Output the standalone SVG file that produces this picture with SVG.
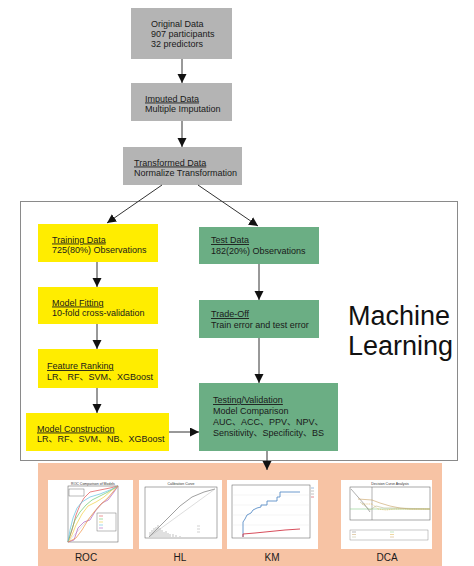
<svg xmlns="http://www.w3.org/2000/svg" width="474" height="566" viewBox="0 0 474 566">
<defs>
<marker id="ah" markerUnits="userSpaceOnUse" markerWidth="10" markerHeight="10" refX="9" refY="4.5" orient="auto">
<path d="M0,0 L9,4.5 L0,9 z" fill="#111"/>
</marker>
</defs>
<style>
text{font-family:"Liberation Sans","Noto Sans CJK SC",sans-serif;fill:#1a1a1a}
.t{font-size:9px}
.u{text-decoration:underline}
.gray{fill:#b4b4b4}
.yel{fill:#ffed00}
.grn{fill:#6bae84}
.con line{stroke:#333;stroke-width:1;marker-end:url(#ah)}
.ax{fill:none;stroke:#555;stroke-width:0.5}
.pt{font-size:3.5px;fill:#333}
.lbl{font-size:10px}
</style>
<rect width="474" height="566" fill="#fff"/>
<rect x="20.5" y="201.5" width="437" height="259" fill="none" stroke="#8a8a8a" stroke-width="1"/>

<g id="original">
<rect class="gray" x="131" y="8" width="101" height="51"/>
<text class="t" x="151" y="27">Original Data</text>
<text class="t" x="151" y="37">907 participants</text>
<text class="t" x="151" y="47">32 predictors</text>
</g>
<g id="imputed">
<rect class="gray" x="131" y="83" width="101" height="38"/>
<text class="t u" x="145" y="101.5">Imputed Data</text>
<text class="t" x="145" y="111.5">Multiple Imputation</text>
</g>
<g id="transformed">
<rect class="gray" x="123" y="147" width="119" height="38"/>
<text class="t u" x="134" y="165.5">Transformed Data</text>
<text class="t" x="134" y="175.5">Normalize Transformation</text>
</g>

<g id="training">
<rect class="yel" x="38" y="224" width="120" height="38"/>
<text class="t u" x="52" y="242.5">Training Data</text>
<text class="t" x="52" y="253">725(80%) Observations</text>
</g>
<g id="fitting">
<rect class="yel" x="38" y="287" width="120" height="37"/>
<text class="t u" x="52" y="305.5">Model Fitting</text>
<text class="t" x="52" y="316">10-fold cross-validation</text>
</g>
<g id="ranking">
<rect class="yel" x="38" y="349" width="120" height="39"/>
<text class="t u" x="47" y="369">Feature Ranking</text>
<text class="t" x="47" y="379.5">LR、RF、SVM、XGBoost</text>
</g>
<g id="construction">
<rect class="yel" x="26" y="413" width="143" height="38"/>
<text class="t u" x="37" y="431.5">Model Construction</text>
<text class="t" x="37" y="442">LR、RF、SVM、NB、XGBoost</text>
</g>

<g id="test">
<rect class="grn" x="199" y="227" width="120" height="37"/>
<text class="t u" x="211" y="243">Test Data</text>
<text class="t" x="211" y="253.5">182(20%) Observations</text>
</g>
<g id="tradeoff">
<rect class="grn" x="199" y="300" width="120" height="38"/>
<text class="t u" x="211" y="317">Trade-Off</text>
<text class="t" x="211" y="327.5">Train error and test error</text>
</g>
<g id="testing">
<rect class="grn" x="199" y="383" width="139" height="68"/>
<text class="t u" x="213" y="403">Testing/Validation</text>
<text class="t" x="213" y="414">Model Comparison</text>
<text class="t" x="213" y="425">AUC、ACC、PPV、NPV、</text>
<text class="t" x="213" y="436">Sensitivity、Specificity、BS</text>
</g>

<g id="ml">
<text x="348" y="325" style="font-size:27px;fill:#111">Machine</text>
<text x="348" y="355" style="font-size:27px;fill:#111">Learning</text>
</g>

<g id="results">
<rect x="38" y="463" width="404" height="103" fill="#f7c3a4"/>
<!-- ROC -->
<rect x="48" y="480" width="85" height="69" fill="#fff"/>
<text class="pt" x="93" y="484.5" text-anchor="middle">ROC Comparison of Models</text>
<rect class="ax" x="68" y="486" width="50" height="56"/>
<line x1="68" y1="542" x2="118" y2="486" stroke="#bbb" stroke-width="0.4"/>
<polyline fill="none" stroke="#e05050" stroke-width="0.7" points="68,542 72,530 76,515 80,505 84,498 90,492 100,490 110,488 118,486"/>
<polyline fill="none" stroke="#6ac86a" stroke-width="0.7" points="68,542 71,532 75,520 80,512 86,505 92,500 100,496 108,492 118,486"/>
<polyline fill="none" stroke="#f0d040" stroke-width="0.7" points="68,542 72,535 76,525 82,514 88,506 96,502 104,497 112,490 118,486"/>
<polyline fill="none" stroke="#60c0e0" stroke-width="0.7" points="68,542 70,530 73,518 77,508 82,502 90,497 100,494 110,490 118,486"/>
<polyline fill="none" stroke="#b060c0" stroke-width="0.7" points="68,542 74,540 78,528 84,522 90,520 96,510 102,503 108,500 114,492 118,486"/>
<polyline fill="none" stroke="#f09040" stroke-width="0.7" points="68,542 76,538 82,530 88,520 94,512 100,505 108,498 118,486"/>
<rect x="69" y="489" width="15" height="7" fill="#fff" stroke="#555" stroke-width="0.4"/>
<rect x="97" y="513" width="19" height="18" fill="#fff" stroke="#555" stroke-width="0.4"/>
<g stroke-width="0.6">
<line x1="99" y1="516" x2="103" y2="516" stroke="#e05050"/>
<line x1="99" y1="519" x2="103" y2="519" stroke="#6ac86a"/>
<line x1="99" y1="522" x2="103" y2="522" stroke="#f0d040"/>
<line x1="99" y1="525" x2="103" y2="525" stroke="#60c0e0"/>
<line x1="99" y1="528" x2="103" y2="528" stroke="#b060c0"/>
</g>
<text class="lbl" x="86" y="561" text-anchor="middle">ROC</text>
<!-- HL -->
<rect x="139" y="480" width="83" height="69" fill="#fff"/>
<text class="pt" x="181" y="484.5" text-anchor="middle">Calibration Curve</text>
<rect class="ax" x="145" y="487" width="72" height="51"/>
<polyline fill="none" stroke="#888" stroke-width="0.8" points="149,537 160,526 170,516 180,506 192,497 204,492 215,489"/>
<line x1="149" y1="537" x2="215" y2="489" stroke="#bbb" stroke-width="0.5"/>
<g stroke="#999" stroke-width="0.6">
<line x1="150" y1="537" x2="150" y2="532"/><line x1="152" y1="537" x2="152" y2="530"/><line x1="154" y1="537" x2="154" y2="528"/>
<line x1="156" y1="537" x2="156" y2="527"/><line x1="158" y1="537" x2="158" y2="525"/><line x1="160" y1="537" x2="160" y2="528"/>
<line x1="162" y1="537" x2="162" y2="530"/><line x1="164" y1="537" x2="164" y2="532"/><line x1="166" y1="537" x2="166" y2="531"/>
<line x1="168" y1="537" x2="168" y2="533"/><line x1="170" y1="537" x2="170" y2="534"/><line x1="173" y1="537" x2="173" y2="534"/>
<line x1="176" y1="537" x2="176" y2="535"/><line x1="180" y1="537" x2="180" y2="536"/>
</g>
<g stroke="#888" stroke-width="0.4"><line x1="197" y1="526" x2="200" y2="526"/><line x1="197" y1="529" x2="200" y2="529"/><line x1="197" y1="532" x2="200" y2="532"/></g>
<text class="lbl" x="180" y="561" text-anchor="middle">HL</text>
<!-- KM -->
<rect x="227" y="480" width="91" height="69" fill="#fff"/>
<rect class="ax" x="232" y="485" width="78" height="53"/>
<g stroke="#ddd" stroke-width="0.3">
<line x1="232" y1="495" x2="310" y2="495"/><line x1="232" y1="505" x2="310" y2="505"/><line x1="232" y1="515" x2="310" y2="515"/><line x1="232" y1="525" x2="310" y2="525"/>
</g>
<polyline fill="none" stroke="#5b8fc7" stroke-width="0.9" points="243,537 243,522 245,519 247,515 251,513 253,510 257,508 261,507 261,505 267,505 267,501 277,501 277,497 280,497 280,492 300,492"/>
<polyline fill="none" stroke="#d23a4a" stroke-width="0.9" points="243,537 243,534 255,533 265,532 275,531 285,530 300,529"/>
<g stroke-width="0.6">
<line x1="311" y1="488" x2="314" y2="488" stroke="#5b8fc7"/><line x1="311" y1="491" x2="314" y2="491" stroke="#999"/>
<line x1="311" y1="494" x2="314" y2="494" stroke="#999"/><line x1="311" y1="497" x2="314" y2="497" stroke="#d23a4a"/>
</g>
<text class="lbl" x="272" y="561" text-anchor="middle">KM</text>
<!-- DCA -->
<rect x="341" y="480" width="91" height="69" fill="#fff"/>
<text class="pt" x="390" y="484.5" text-anchor="middle">Decision Curve Analysis</text>
<rect class="ax" x="350" y="487" width="80" height="33"/>
<line x1="372" y1="487" x2="372" y2="520" stroke="#666" stroke-width="0.5"/>
<line x1="350" y1="509" x2="430" y2="509" stroke="#8c8" stroke-width="0.6"/>
<polyline fill="none" stroke="#777" stroke-width="0.6" points="351,489 358,497 365,505 370,512"/>
<polyline fill="none" stroke="#c8a060" stroke-width="0.6" points="358,499 372,500 380,503 390,506 400,508 410,509 430,509"/>
<polyline fill="none" stroke="#e0b040" stroke-width="0.6" stroke-dasharray="1,0.8" points="362,504 372,504 378,509 386,510 395,509 405,509 430,509"/>
<polyline fill="none" stroke="#b8b890" stroke-width="0.6" points="360,502 370,510 376,506 384,508 394,508 430,509"/>
<rect x="350" y="530" width="78" height="10" fill="#fff" stroke="#777" stroke-width="0.4"/>
<g stroke-width="0.5">
<line x1="352" y1="532" x2="356" y2="532" stroke="#777"/><line x1="352" y1="534.5" x2="356" y2="534.5" stroke="#c8a060"/><line x1="352" y1="537" x2="356" y2="537" stroke="#b8b890"/>
<line x1="390" y1="532" x2="394" y2="532" stroke="#8c8"/><line x1="390" y1="534.5" x2="394" y2="534.5" stroke="#e0b040"/><line x1="390" y1="537" x2="394" y2="537" stroke="#c8a060"/>
</g>
<text class="lbl" x="387" y="561" text-anchor="middle">DCA</text>
</g>

<g id="connectors" class="con">
<line x1="182" y1="59" x2="182" y2="83"/>
<line x1="182" y1="121" x2="182" y2="147"/>
<line x1="162" y1="185" x2="107" y2="223"/>
<line x1="198" y1="185" x2="258" y2="226"/>
<line x1="97" y1="262" x2="97" y2="287"/>
<line x1="97" y1="324" x2="97" y2="349"/>
<line x1="97" y1="388" x2="97" y2="413"/>
<line x1="259" y1="264" x2="259" y2="300"/>
<line x1="259" y1="338" x2="259" y2="383"/>
<line x1="169" y1="432" x2="199" y2="432"/>
<line x1="267" y1="451" x2="267" y2="470"/>
</g>
</svg>
